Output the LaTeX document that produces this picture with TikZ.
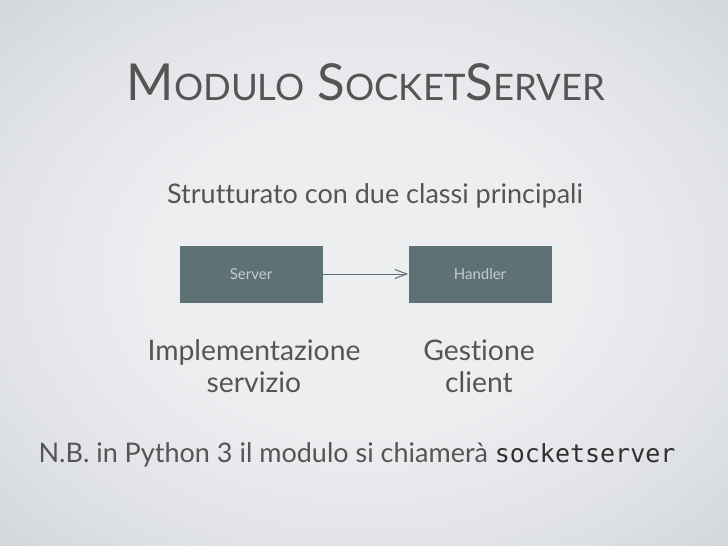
\documentclass[tikz,border=0pt]{standalone}
\usepackage{fontspec}
\setmainfont{Lato}[Ligatures=NoCommon]
\setmonofont{DejaVu Sans Mono}
\usetikzlibrary{arrows.meta}
\definecolor{boxgray}{HTML}{5E7276}
\definecolor{boxtext}{HTML}{C3CCCE}
\definecolor{textgray}{HTML}{555555}
\definecolor{monogray}{HTML}{303030}
\definecolor{bgin}{HTML}{EDEEF0}
\definecolor{bgmid}{HTML}{E2E4E8}
\definecolor{bgout}{HTML}{D2D6DC}
\pgfdeclareradialshading{slidebg}{\pgfpoint{0bp}{0bp}}{color(0bp)=(bgin); color(14bp)=(bgin); color(25bp)=(bgmid); color(36bp)=(bgout); color(50bp)=(bgout)}
\newcommand{\smallcap}[1]{{\fontsize{36.5}{38}\selectfont #1}}
\tikzstyle{classbox}=[rectangle,fill=boxgray,text=boxtext,minimum width=143pt,minimum height=57pt,inner sep=0pt,font=\fontsize{15}{18}\selectfont]
\tikzstyle{caption}=[align=center,text=textgray,inner sep=0pt,anchor=base,font=\fontsize{28.3}{32}\selectfont]

\begin{document}
\begin{tikzpicture}[x=1pt,y=-1pt]

    \shade[shading=slidebg] (0,0) rectangle (728,546);
    \useasboundingbox (0,0) rectangle (728,546);

    \node[caption,font=\fontsize{51}{54}\selectfont] (title) at (366,100)
        {M\smallcap{ODULO} S\smallcap{OCKET}S\smallcap{ERVER}};
    \node[caption,font=\fontsize{27}{30}\selectfont] (subtitle) at (375,203) {Strutturato con due classi principali};

    \foreach \pos/\name/\label in {{(251,274)/server/Server}, {(480,274)/handler/Handler}}
        \node[classbox] (\name) at \pos {\label};

    \foreach \pos/\name/\label in {{(254,392)/servlabel/Implementazione\\servizio}, {(479,392)/handlabel/Gestione\\client}}
        \node[caption] (\name) at \pos {\label};

       \draw[boxgray, line width=1pt, -{Straight Barb[length=12pt,width=9pt]}] (server) -- (handler);

    \node[caption,font=\fontsize{27}{30}\selectfont] (note) at (357,462)
        {N.B. in Python 3 il modulo si chiamerà {\color{monogray}\fontsize{25}{28}\selectfont\ttfamily socketserver}};

\end{tikzpicture}
\end{document}
